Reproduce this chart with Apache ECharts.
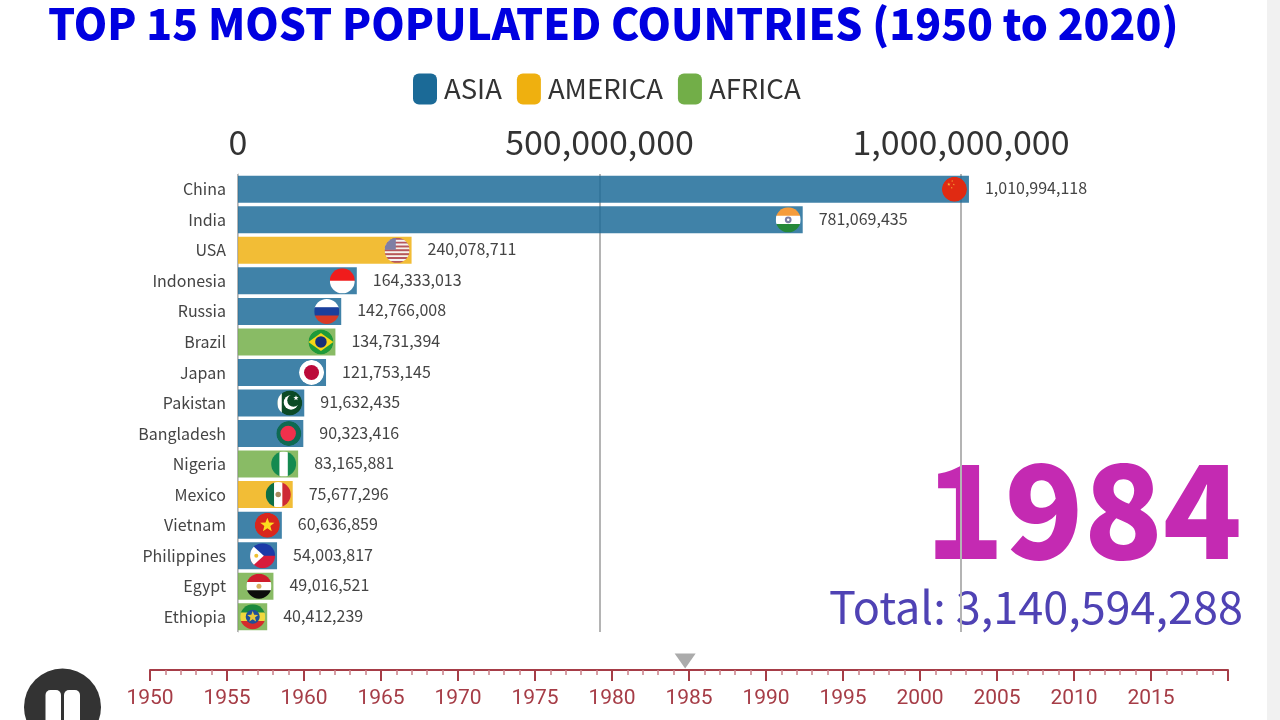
<!DOCTYPE html>
<html>
<head>
<meta charset="utf-8">
<title>Top 15 most populated countries</title>
<style>html,body{margin:0;padding:0;background:#fff}#chart{width:1280px;height:720px}</style>
<script src="https://cdn.jsdelivr.net/npm/echarts@6/dist/echarts.min.js"></script>
</head>
<body>
<div id="chart"></div>
<script>
const countries = ['China','India','USA','Indonesia','Russia','Brazil','Japan','Pakistan','Bangladesh','Nigeria','Mexico','Vietnam','Philippines','Egypt','Ethiopia'];
const population = [1010994118,781069435,240078711,164333013,142766008,134731394,121753145,91632435,90323416,83165881,75677296,60636859,54003817,49016521,40412239];
const regions = ['ASIA','ASIA','AMERICA','ASIA','ASIA','AFRICA','ASIA','ASIA','ASIA','AFRICA','AMERICA','ASIA','ASIA','AFRICA','AFRICA'];
const regionNames = ['ASIA','AMERICA','AFRICA'];
const legendColors = ['#1b6a97','#efb00f','#72ae48'];
const barColors = ['rgba(27,106,151,0.84)','rgba(239,176,15,0.84)','rgba(114,174,72,0.84)'];
const valueTicks = [0,500000000,1000000000];
const yearLabel = '1984';
const totalLabel = 'Total: 3,140,594,288';
const timelinePosition = 1984.75;

const FONT = '"Noto Sans CJK SC","Noto Sans",sans-serif';
const fmt = v => Math.round(v).toLocaleString('en-US');

// Flag primitives, all in a local frame centred on the flag with radius r.
function bands(r, colors, vertical) {
  const n = colors.length, step = 2 * r / n;
  return colors.map((c, i) => ({
    type: 'rect',
    shape: vertical
      ? { x: -r + i * step, y: -r, width: step + 0.4, height: 2 * r }
      : { x: -r, y: -r + i * step, width: 2 * r, height: step + 0.4 },
    style: { fill: c }
  }));
}
function disc(x, y, r, fill) {
  return { type: 'circle', shape: { cx: x, cy: y, r }, style: { fill } };
}
function star(x, y, r, fill) {
  const points = [];
  for (let i = 0; i < 10; i++) {
    const a = -Math.PI / 2 + i * Math.PI / 5, d = i % 2 ? r * 0.42 : r;
    points.push([x + d * Math.cos(a), y + d * Math.sin(a)]);
  }
  return { type: 'polygon', shape: { points }, style: { fill } };
}
function poly(points, fill) {
  return { type: 'polygon', shape: { points }, style: { fill } };
}
function box(x, y, width, height, fill) {
  return { type: 'rect', shape: { x, y, width, height }, style: { fill } };
}

const flags = {
  China: r => [disc(0, 0, r, '#e02a12'), star(-r * 0.45, -r * 0.4, r * 0.14, '#f5b73a'),
    star(-r * 0.18, -r * 0.66, r * 0.08, '#f5b73a'), star(-r * 0.05, -r * 0.38, r * 0.08, '#f5b73a'),
    star(-r * 0.22, -r * 0.12, r * 0.08, '#f5b73a')],
  India: r => [...bands(r, ['#f59c3c','#ffffff','#25883a']), disc(0, 0, r * 0.27, '#7a7ca4'), disc(0, 0, r * 0.1, '#ffffff')],
  USA: r => [...bands(r, ['#b5565f','#f4f2f2','#b5565f','#f4f2f2','#b5565f','#f4f2f2','#b5565f','#f4f2f2','#b5565f','#f4f2f2','#b5565f','#f4f2f2','#b5565f']),
    box(-r, -r, r * 0.9, r * 0.95, '#7f7fa4')],
  Indonesia: r => bands(r, ['#f01c1c','#ffffff']),
  Russia: r => bands(r, ['#ffffff','#1b3f9c','#d83a26']),
  Brazil: r => [disc(0, 0, r, '#1f9a3a'), poly([[-r, 0], [0, -r * 0.72], [r, 0], [0, r * 0.72]], '#f7d616'), disc(0, 0, r * 0.46, '#172f78')],
  Japan: r => [disc(0, 0, r, '#ffffff'), disc(0, 0, r * 0.6, '#bc0a3a')],
  Pakistan: r => [disc(0, 0, r, '#0b4a26'), box(-r, -r, r * 0.36, 2 * r, '#ffffff'),
    disc(r * 0.1, -r * 0.05, r * 0.58, '#ffffff'), disc(r * 0.3, -r * 0.2, r * 0.5, '#0b4a26'), star(r * 0.5, -r * 0.4, r * 0.22, '#ffffff')],
  Bangladesh: r => [disc(0, 0, r, '#0e6a52'), disc(-r * 0.05, 0, r * 0.62, '#f0304c')],
  Nigeria: r => bands(r, ['#148a50','#ffffff','#148a50'], true),
  Mexico: r => [...bands(r, ['#0d6f46','#ffffff','#ce2a34'], true), disc(0, 0, r * 0.22, '#a78a5e')],
  Vietnam: r => [disc(0, 0, r, '#d8261c'), star(0, 0, r * 0.6, '#fcdc1e')],
  Philippines: r => [...bands(r, ['#1c3aa8','#d81c3c']), poly([[-r, -r], [r * 0.1, 0], [-r, r]], '#ffffff'), disc(-r * 0.5, 0, r * 0.16, '#f0c030')],
  Egypt: r => [...bands(r, ['#cf1c2c','#ffffff','#0c0c0c']), disc(0, 0, r * 0.2, '#d8b060')],
  Ethiopia: r => [...bands(r, ['#1c8a3c','#f0d83c','#d42c2c']), disc(0, 0, r * 0.56, '#1f4f98'), star(0, 0, r * 0.46, '#e8c83c')]
};

// Each flag is a clipped disc that sits just inside the end of its bar.
function renderFlag(params, api) {
  const index = api.value(1);
  const point = api.coord([api.value(0), index]);
  const r = 12.5;
  return {
    type: 'group',
    x: point[0] - 14.5,
    y: point[1],
    clipPath: { type: 'circle', shape: { cx: 0, cy: 0, r } },
    children: flags[countries[index]](r)
  };
}

const barSeries = regionNames.map((name, i) => ({
  name,
  type: 'bar',
  xAxisIndex: 0,
  yAxisIndex: 0,
  barWidth: 27,
  barGap: '-100%',
  clip: false,
  z: 2,
  itemStyle: { color: barColors[i] },
  label: {
    show: true,
    position: 'right',
    distance: 16,
    offset: [0, -1],
    fontFamily: FONT,
    fontSize: 16,
    color: '#444',
    formatter: p => fmt(p.value)
  },
  data: population.map((v, k) => (regions[k] === name ? v : '-'))
}));

const option = {
  animation: false,
  backgroundColor: '#fff',
  textStyle: { fontFamily: FONT },
  title: {
    text: 'TOP 15 MOST POPULATED COUNTRIES (1950 to 2020)',
    left: 43,
    top: -2,
    textStyle: { fontFamily: FONT, fontSize: 42.6, fontWeight: 900, color: '#0000e0' }
  },
  legend: {
    left: 408,
    top: 68.5,
    icon: 'roundRect',
    itemWidth: 24,
    itemHeight: 31,
    itemGap: 15,
    textStyle: { fontFamily: FONT, fontSize: 27.5, color: '#333', padding: [0, 0, 0, 2] },
    data: regionNames.map((name, i) => ({ name, itemStyle: { color: legendColors[i], opacity: 1 } }))
  },
  grid: [
    { left: 238, top: 174, width: 723, height: 458 },
    { left: 150, top: 669, width: 1078, height: 1 }
  ],
  xAxis: [
    {
      type: 'value',
      gridIndex: 0,
      position: 'top',
      min: valueTicks[0],
      max: valueTicks[valueTicks.length - 1],
      interval: valueTicks[1],
      axisLine: { show: false },
      axisTick: { show: false },
      axisLabel: { fontFamily: FONT, fontSize: 34, color: '#333', margin: 15, formatter: v => fmt(v) },
      splitLine: { show: true, lineStyle: { color: '#b4b4b4', width: 2 } }
    },
    {
      type: 'value',
      gridIndex: 1,
      position: 'bottom',
      min: 1950,
      max: 2020,
      interval: 5,
      axisLine: { show: true, onZero: false, lineStyle: { color: '#a63d47', width: 2 } },
      axisTick: { show: true, length: 11, lineStyle: { color: '#a63d47', width: 2 } },
      minorTick: { show: true, splitNumber: 5, length: 5, lineStyle: { color: '#c98088', width: 1.5 } },
      axisLabel: {
        fontFamily: 'Roboto', fontSize: 21, color: '#a63d47', margin: 18,
        showMaxLabel: false,
        formatter: v => String(v)
      },
      splitLine: { show: false }
    }
  ],
  yAxis: [
    {
      type: 'category',
      gridIndex: 0,
      inverse: true,
      data: countries,
      axisLine: { show: true, lineStyle: { color: '#c8c8c8', width: 1 } },
      axisTick: { show: false },
      axisLabel: { fontFamily: FONT, fontSize: 16, color: '#444', margin: 12, padding: [0, 0, 3, 0] }
    },
    { type: 'value', gridIndex: 1, min: 0, max: 1, show: false }
  ],
  series: [
    ...barSeries,
    {
      type: 'custom',
      xAxisIndex: 0,
      yAxisIndex: 0,
      z: 5,
      silent: true,
      encode: { x: 0, y: 1 },
      renderItem: renderFlag,
      data: population.map((v, k) => [v, k])
    },
    {
      type: 'scatter',
      xAxisIndex: 1,
      yAxisIndex: 1,
      silent: true,
      clip: false,
      symbol: 'triangle',
      symbolRotate: 180,
      symbolSize: [21, 15],
      symbolOffset: [0, -8],
      itemStyle: { color: '#ababab', opacity: 1 },
      data: [[timelinePosition, 1]]
    }
  ],
  graphic: [
    { type: 'rect', z: -2, shape: { x: 1267, y: 0, width: 13, height: 720 }, style: { fill: '#f1f1f1' } },
    {
      type: 'text', z: -1, x: 1242, y: 510,
      style: { text: yearLabel, font: '900 130px ' + FONT, fill: '#c42ab2', textAlign: 'right', textVerticalAlign: 'middle' }
    },
    {
      type: 'text', z: -1, x: 1243, y: 607,
      style: { text: totalLabel, font: '45px ' + FONT, fill: '#4f42b4', textAlign: 'right', textVerticalAlign: 'middle' }
    },
    { type: 'circle', z: 10, shape: { cx: 62.5, cy: 707, r: 38.5 }, style: { fill: '#333333' } },
    { type: 'rect', z: 11, shape: { x: 45.5, y: 690, width: 15.5, height: 40, r: 5 }, style: { fill: '#ffffff' } },
    { type: 'rect', z: 11, shape: { x: 64, y: 690, width: 16, height: 40, r: 5 }, style: { fill: '#ffffff' } }
  ]
};

echarts.init(document.getElementById('chart')).setOption(option);
</script>
</body>
</html>
